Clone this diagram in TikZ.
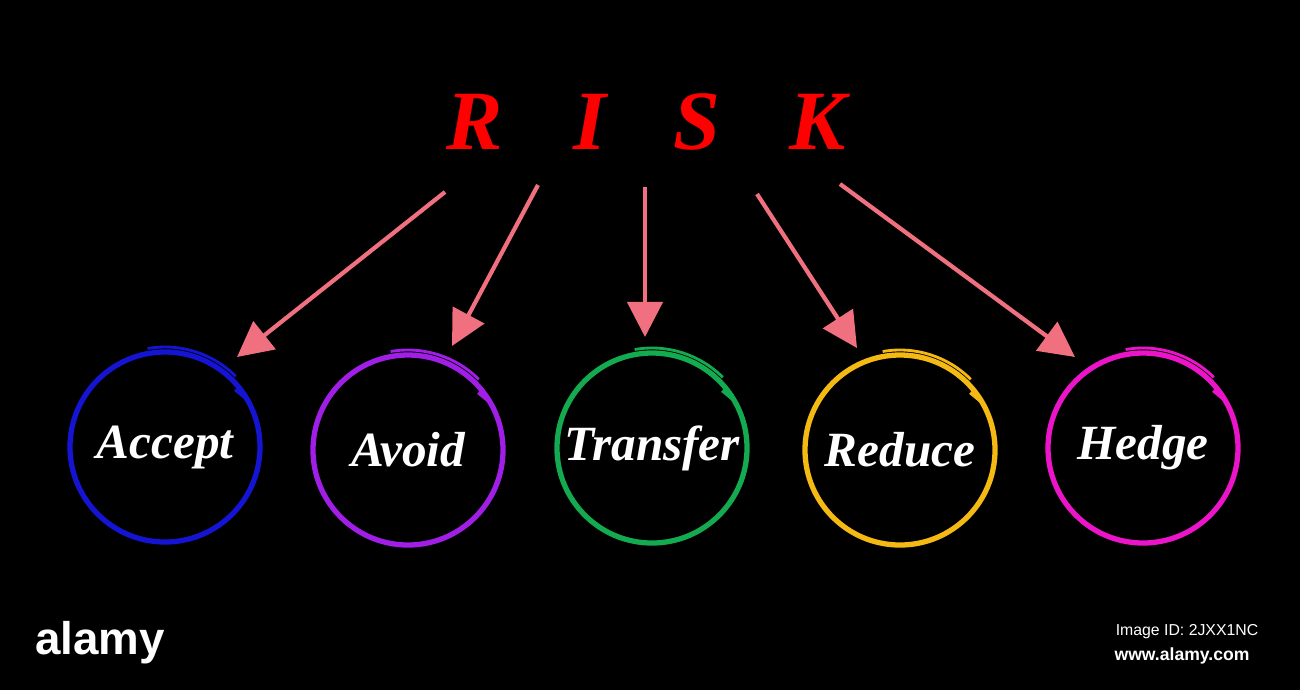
\documentclass[tikz,border=0pt]{standalone}
\usepackage{fontspec}
\setmainfont{Liberation Serif}
\newfontfamily\wmfont{Liberation Sans}
\usetikzlibrary{arrows.meta,calc}
\begin{document}
\begin{tikzpicture}[x=0.01cm,y=-0.01cm,
  lett/.style={text=red,font=\bfseries\itshape\fontsize{24}{24}\selectfont},
  lab/.style={text=white,font=\bfseries\itshape\fontsize{14}{14}\selectfont},
  ring/.style={line width=1.5pt},
  arr/.style={draw={rgb,255:red,240;green,112;blue,128},line width=1.2pt,-{Triangle[length=10pt,width=10pt]}}]
\fill[black] (0,0) rectangle (1300,690);
\useasboundingbox (0,0) rectangle (1300,690);
\definecolor{c1}{RGB}{20,20,210}\definecolor{c2}{RGB}{160,30,230}
\definecolor{c3}{RGB}{20,170,80}\definecolor{c4}{RGB}{245,185,20}
\definecolor{c5}{RGB}{235,20,200}
\node[lett] (R) at (475,122) {R};
\node[lett] (I) at (590,122) {I};
\node[lett] (S) at (697,122) {S};
\node[lett] (K) at (818,122) {K};
\foreach \n/\x/\y/\c/\t in {a/165/447/c1/Accept,b/408/450/c2/Avoid,c/652/448/c3/Transfer,d/900/450/c4/Reduce,e/1143/448/c5/Hedge}{
  \draw[ring,\c] (\x,\y) circle[radius=95];
  \draw[\c,line width=0.8pt] ($(\x,\y)+(-45:100)$) arc[start angle=-45,end angle=-100,radius=100];
  \draw[\c,line width=1pt] ($(\x,\y)+(-30:95)$) -- ++(-12,-10);
  \node[lab] (\n) at (\x,\y) {\t};
}
\coordinate (s1) at (445,192); \coordinate (e1) at (237,357);
\coordinate (s2) at (538,185); \coordinate (e2) at (452,346);
\coordinate (s3) at (645,187); \coordinate (e3) at (645,337);
\coordinate (s4) at (757,194); \coordinate (e4) at (857,348);
\coordinate (s5) at (840,184); \coordinate (e5) at (1075,357);
\foreach \i in {1,...,5}{\draw[arr] (s\i) -- (e\i);}
\node[text=white,font=\wmfont\bfseries\fontsize{13}{13}\selectfont] (al) at (100,643) {alamy};
\node[text=white,font=\wmfont\fontsize{4.5}{4.5}\selectfont] (id) at (1187,632) {Image ID: 2JXX1NC};
\node[text=white,font=\wmfont\bfseries\fontsize{5}{5}\selectfont] (www) at (1182,656) {www.alamy.com};
\end{tikzpicture}
\end{document}
